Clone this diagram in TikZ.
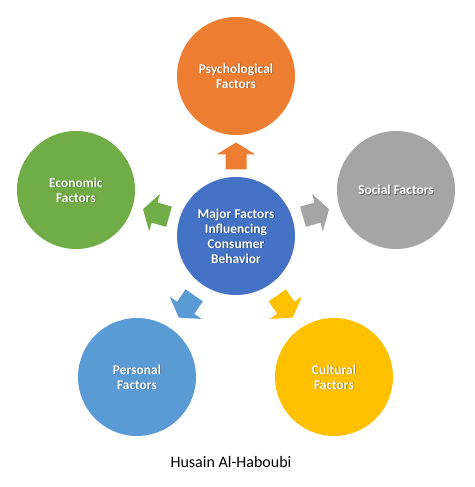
\documentclass[tikz,border=0pt]{standalone}
\usepackage{fontspec}
\setmainfont{Carlito}
\usetikzlibrary{calc}
\definecolor{coreblue}{HTML}{4472C4}
\definecolor{psyorange}{HTML}{ED7D31}
\definecolor{socgray}{HTML}{A5A5A5}
\definecolor{culyellow}{HTML}{FFC000}
\definecolor{perblue}{HTML}{5B9BD5}
\definecolor{ecogreen}{HTML}{70AD47}

\begin{document}
\begin{tikzpicture}[x=1pt,y=1pt,
  factor/.style={circle, minimum size=118pt, inner sep=0pt},
  facetext/.style={align=center, text=white, font=\fontsize{13.5}{15}\selectfont\bfseries},
  shadowtext/.style={facetext, text=black, text opacity=0.4}]
\useasboundingbox[fill=white] (0,0) rectangle (474,487);
% hub and the five factors
\foreach \name/\x/\y/\col/\lbl in {core/236/251/coreblue/Major Factors\\Influencing\\Consumer\\Behavior,
    psych/236/411/psyorange/Psychological\\Factors,
    social/396/297/socgray/Social Factors, cultural/334/110/culyellow/Cultural\\Factors,
    personal/137/110/perblue/Personal\\Factors, economic/76/297/ecogreen/Economic\\Factors} {
  \node[factor, fill=\col] (\name) at (\x,\y) {};
  \node[shadowtext] (\name-s) at ($(\name)+(0.8,-0.8)$) {\lbl};
  \node[facetext] (\name-t) at (\name) {\lbl};
}
% block arrows, half way between hub and factor
\foreach \name/\ang/\col in {psych/90/psyorange, social/16/socgray, cultural/-55/culyellow,
    personal/235/perblue, economic/164/ecogreen}
  \fill[\col, shift={($(core)!0.5!(\name)$)}, rotate=\ang]
    (-13.5,-10.5) -- (1.5,-10.5) -- (1.5,-19.5) -- (13.5,0) -- (1.5,19.5) -- (1.5,10.5) -- (-13.5,10.5) -- cycle;
\node[font=\fontsize{16}{19}\selectfont] (author) at (231,25) {Husain Al-Haboubi};
\end{tikzpicture}
\end{document}
